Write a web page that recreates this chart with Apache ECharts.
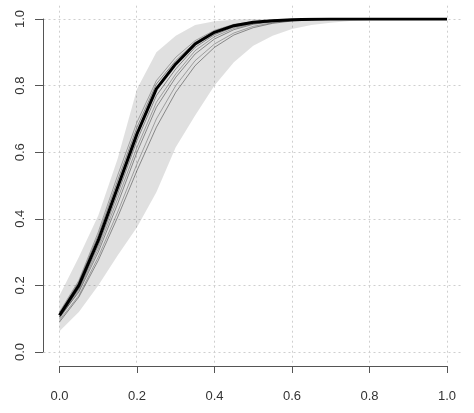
<!DOCTYPE html>
<html>
<head>
<meta charset="utf-8">
<script src="https://cdn.jsdelivr.net/npm/echarts@6.0.0/dist/echarts.min.js"></script>
<style>
  html, body { margin: 0; padding: 0; background: #fff; }
  #curves { width: 474px; height: 413px; }
</style>
</head>
<body>
<div id="curves"></div>
<script>
// x grid of the curves
var xs = [0, 0.05, 0.1, 0.15, 0.2, 0.25, 0.3, 0.35, 0.4, 0.45, 0.5,
          0.55, 0.6, 0.65, 0.7, 0.75, 0.8, 0.85, 0.9, 0.95, 1];

// grey envelope
var bandLower = [0.062, 0.12, 0.2, 0.29, 0.375, 0.48, 0.615, 0.71, 0.8, 0.87, 0.92,
                 0.95, 0.97, 0.982, 0.989, 0.994, 0.997, 0.999, 1, 1, 1];
var bandUpper = [0.17, 0.285, 0.41, 0.58, 0.79, 0.9, 0.95, 0.982, 0.993, 0.998, 1,
                 1, 1, 1, 1, 1, 1, 1, 1, 1, 1];

// thick black curve
var mainCurve = [0.11, 0.2, 0.335, 0.495, 0.655, 0.79, 0.865, 0.925, 0.96, 0.98, 0.99,
                 0.995, 0.998, 0.999, 1, 1, 1, 1, 1, 1, 1];

// thin grey curves
var thinCurves = [
  [0.115, 0.21, 0.35, 0.515, 0.675, 0.805, 0.875, 0.93, 0.963, 0.982, 0.991, 0.996, 0.998, 0.999, 1, 1, 1, 1, 1, 1, 1],
  [0.12, 0.215, 0.36, 0.53, 0.69, 0.815, 0.885, 0.935, 0.966, 0.984, 0.992, 0.996, 0.998, 0.999, 1, 1, 1, 1, 1, 1, 1],
  [0.105, 0.19, 0.32, 0.475, 0.635, 0.77, 0.85, 0.915, 0.953, 0.976, 0.988, 0.994, 0.997, 0.999, 1, 1, 1, 1, 1, 1, 1],
  [0.1, 0.185, 0.31, 0.46, 0.615, 0.75, 0.835, 0.905, 0.947, 0.972, 0.986, 0.993, 0.997, 0.999, 1, 1, 1, 1, 1, 1, 1],
  [0.105, 0.18, 0.3, 0.445, 0.6, 0.735, 0.825, 0.895, 0.94, 0.968, 0.984, 0.992, 0.996, 0.998, 1, 1, 1, 1, 1, 1, 1],
  [0.095, 0.17, 0.285, 0.42, 0.565, 0.7, 0.8, 0.875, 0.925, 0.958, 0.978, 0.989, 0.995, 0.998, 0.999, 1, 1, 1, 1, 1, 1],
  [0.09, 0.165, 0.275, 0.405, 0.545, 0.675, 0.78, 0.86, 0.915, 0.952, 0.974, 0.987, 0.994, 0.997, 0.999, 1, 1, 1, 1, 1, 1]
];

var tickValues = [0, 0.2, 0.4, 0.6, 0.8, 1];

var chart = echarts.init(document.getElementById('curves'));

function pairs(ys) {
  return xs.map(function (x, i) { return [x, ys[i]]; });
}

var labelStyle = {
  color: '#333',
  fontFamily: 'Liberation Sans',
  fontSize: 13,
  formatter: function (v) { return v.toFixed(1); }
};

var axisStroke = { color: '#555', width: 1 };
var gridStroke = { color: '#cfcfcf', width: 1, type: [2, 3] };

var series = [];

// envelope as one polygon: upper edge left to right, lower edge back
series.push({
  type: 'custom',
  silent: true,
  data: xs.map(function (x, i) { return [x, bandLower[i], bandUpper[i]]; }),
  encode: { x: 0, y: [1, 2] },
  renderItem: function (params, api) {
    if (params.dataIndex !== 0) return;
    var pts = [];
    xs.forEach(function (x, i) { pts.push(api.coord([x, bandUpper[i]])); });
    for (var i = xs.length - 1; i >= 0; i--) pts.push(api.coord([xs[i], bandLower[i]]));
    return {
      type: 'polygon',
      shape: { points: pts },
      style: { fill: 'rgba(0,0,0,0.12)' }
    };
  }
});

thinCurves.forEach(function (ys, k) {
  series.push({
    type: 'line', data: pairs(ys), symbol: 'none', silent: true,
    lineStyle: { color: k % 2 ? 'rgba(0,0,0,0.3)' : 'rgba(0,0,0,0.4)', width: 1 }
  });
});

series.push({
  type: 'line', data: pairs(mainCurve), symbol: 'none', silent: true,
  lineStyle: { color: '#000', width: 3 }
});

var chartOption = {
  animation: false,
  backgroundColor: '#fff',
  grid: [
    { left: 59.5, right: 27, top: 19, bottom: 61 },
    { left: 43.5, right: 11.5, top: 5.7, bottom: 47.5 }
  ],
  xAxis: [
    {
      type: 'value', gridIndex: 0, min: 0, max: 1, interval: 0.2, offset: 14,
      axisLine: { show: true, onZero: false, lineStyle: axisStroke },
      axisTick: { show: true, length: 7, lineStyle: axisStroke },
      axisLabel: Object.assign({ margin: 24 }, labelStyle),
      splitLine: { show: false }
    },
    {
      type: 'value', gridIndex: 1, min: -0.04, max: 1.04,
      axisLine: { show: false, onZero: false },
      axisTick: { show: false, customValues: tickValues },
      axisLabel: { show: false, customValues: tickValues },
      splitLine: { show: true, customValues: tickValues, lineStyle: gridStroke }
    }
  ],
  yAxis: [
    {
      type: 'value', gridIndex: 0, min: 0, max: 1, interval: 0.2, offset: 16.5,
      axisLine: { show: true, onZero: false, lineStyle: axisStroke },
      axisTick: { show: true, length: 8, lineStyle: axisStroke },
      axisLabel: Object.assign({ margin: 16, rotate: 90 }, labelStyle),
      splitLine: { show: false }
    },
    {
      type: 'value', gridIndex: 1, min: -0.04, max: 1.04,
      axisLine: { show: false, onZero: false },
      axisTick: { show: false, customValues: tickValues },
      axisLabel: { show: false, customValues: tickValues },
      splitLine: { show: true, customValues: tickValues, lineStyle: gridStroke }
    }
  ],
  series: series
};

chart.setOption(chartOption);
</script>
</body>
</html>
